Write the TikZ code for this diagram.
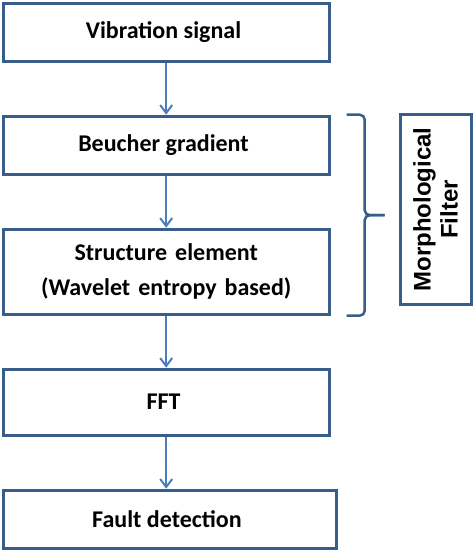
\documentclass[tikz,border=0pt]{standalone}
\usepackage{fontspec}
\setmainfont{Carlito}
\newfontfamily\arialfont{Liberation Sans}
\usetikzlibrary{matrix,calc,arrows.meta}
\definecolor{boxblue}{RGB}{56,93,138}
\definecolor{flowblue}{RGB}{74,126,187}

\begin{document}
\begin{tikzpicture}[x=1pt,y=1pt,
  box/.style={draw=boxblue,line width=3pt,minimum width=326pt,minimum height=58pt,
    align=center,font=\bfseries\fontsize{24}{35}\selectfont},
  flow/.style={draw=flowblue,line width=2pt,-{Straight Barb[length=8pt,width=12pt]}},
  curly/.style={draw=boxblue,line width=2.5pt,rounded corners=5pt}]
\useasboundingbox (0,0) rectangle (474,-553);
\matrix (m) [matrix of nodes,row sep=52pt,inner sep=0pt,anchor=north west,
  nodes={box,anchor=center}] at (1.5,-1.5)
{ Vibration signal \\
  Beucher gradient \\
  |[minimum height=85pt,text width=300pt]| Structure element\endgraf(Wavelet entropy based) \\
  |[minimum height=66pt]| FFT \\
  |[minimum width=333pt,xshift=3.5pt]| Fault detection \\
};
\node (filt) [draw=boxblue,line width=3pt,rotate=90,minimum width=189pt,minimum height=71pt,
  align=center,font=\arialfont\bfseries\fontsize{24}{27}\selectfont] at (435.5,-209.5)
  {Morphological\\Filter};
\path
(m-1-1) edge [flow] (m-2-1)
(m-2-1) edge [flow] (m-3-1)
(m-3-1) edge [flow] (m-4-1)
(m-4-1) edge [flow] (m-4-1.south |- m-5-1.north)
;
% brace round the two filter steps
\coordinate (bt) at ([xshift=16pt]m-2-1.north east);
\coordinate (bb) at ([xshift=16pt]m-3-1.south east);
\coordinate (bm) at ($(bt)!0.5!(bb)+(38pt,0)$);
\draw [curly] (bt) -| ($(bm)+(-20pt,0)$) -- (bm);
\draw [curly] (bb) -| ($(bm)+(-20pt,0)$) -- (bm);
\end{tikzpicture}
\end{document}
